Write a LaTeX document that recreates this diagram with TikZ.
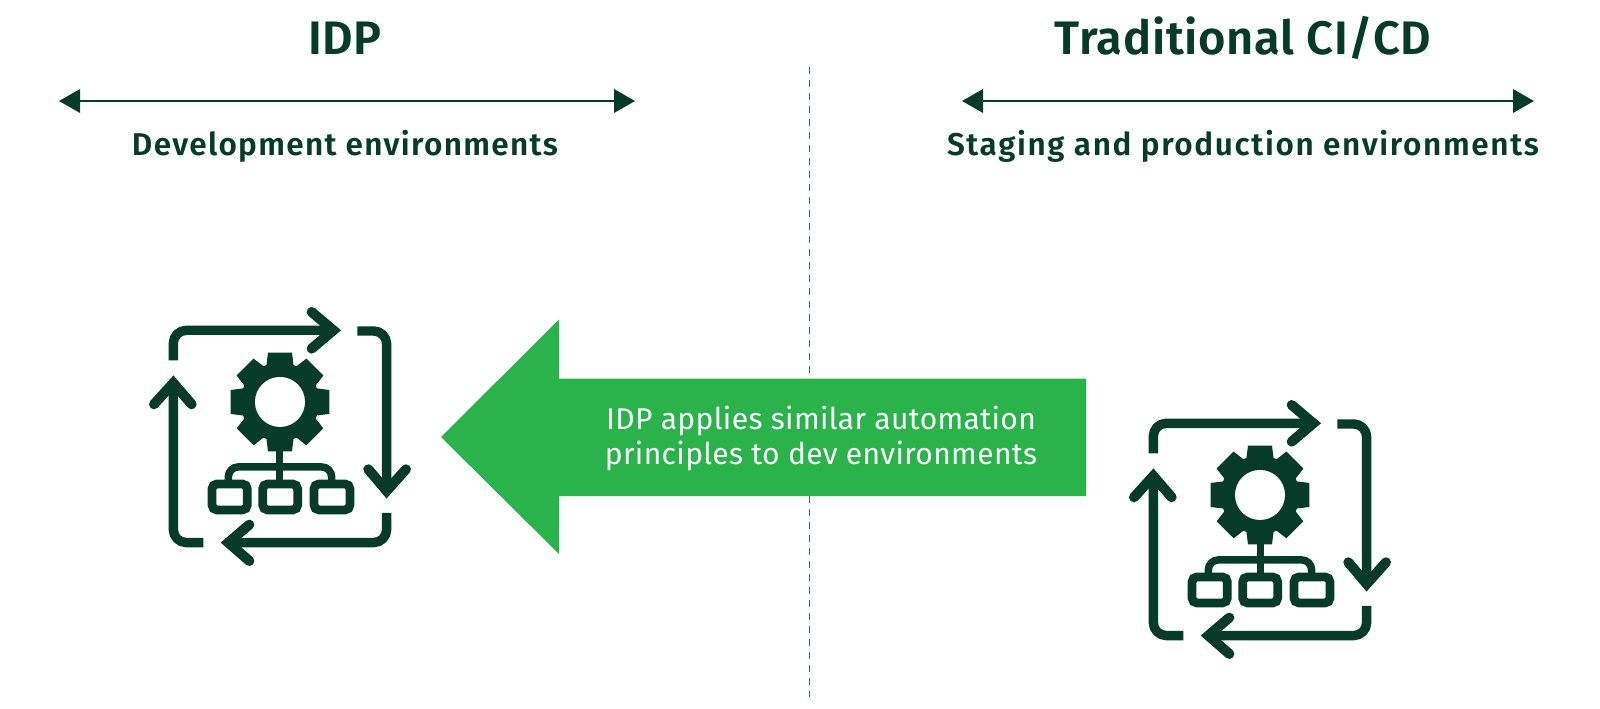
\documentclass[tikz,border=0pt]{standalone}
\usepackage{fontspec}
\setmainfont{Fira Sans}
\newfontfamily\titlefont[LetterSpace=1.5]{Fira Sans SemiBold}
\newfontfamily\subfont[LetterSpace=4.2]{Fira Sans SemiBold}
\newfontfamily\subwfont[LetterSpace=5.2]{Fira Sans SemiBold}
\newfontfamily\insidefont[LetterSpace=1.2]{Fira Sans}
\definecolor{dk}{HTML}{073B29}
\definecolor{gr}{HTML}{29B34A}
\tikzset{
 x=1pt,y=-1pt,
 ln/.style={draw=dk,line width=9.4pt,line cap=round,line join=round,rounded corners=13pt},
 hd/.style={draw=dk,line width=10pt,line cap=round,line join=miter},
 title/.style={text=dk,font=\fontsize{47}{50}\titlefont,inner sep=0pt,anchor=base},
 sub/.style={text=dk,font=\fontsize{31.5}{34}\subfont,inner sep=0pt,anchor=base},
 subw/.style={text=dk,font=\fontsize{31.5}{34}\subwfont,inner sep=0pt,anchor=base},
 inside/.style={text=white,font=\fontsize{30}{36}\insidefont,inner sep=0pt,anchor=base},
 span/.style={draw=dk,line width=2.2pt},
 tip/.style={fill=dk},
 icon/.pic={
  \begin{scope}[shift={(-150,-111.7)},x=0.3333pt,y=-0.3333pt]
  \draw[ln,line cap=butt] (130,210) -- (130,120) -- (600,120);
  \draw[hd] (545,65) -- (610,120) -- (545,175);
  \draw[ln,line cap=butt] (682,122) -- (770,122) -- (770,590);
  \draw[hd] (715,537) -- (770,602) -- (828,537);
  \draw[ln,line cap=butt] (770,668) -- (770,757) -- (305,757);
  \draw[hd] (358,703) -- (295,757) -- (358,812);
  \draw[ln,line cap=butt] (220,757) -- (130,757) -- (130,290);
  \draw[hd] (72,342) -- (130,278) -- (185,342);
  \fill[dk] (450,335) circle[radius=118];
  \foreach \a in {0,45,...,315}{
    \fill[dk,shift={(450,335)},rotate=\a] (-42,100) -- (-36,148) -- (36,148) -- (42,100) -- cycle;
  }
  \fill[white] (450,335) circle[radius=75];
  \draw[dk,line width=7pt] (450,470) -- (450,575);
  \draw[dk,line width=7.5pt,rounded corners=10pt] (295,575) -- (295,530) -- (605,530) -- (605,575);
  \draw[dk,line width=8.8pt,rounded corners=5pt] (246,581) rectangle (352,659);
  \draw[dk,line width=8.8pt,rounded corners=5pt] (398,581) rectangle (503,659);
  \draw[dk,line width=8.8pt,rounded corners=5pt] (552,581) rectangle (660,659);
  \end{scope}
 }
}
\begin{document}
\begin{tikzpicture}
\useasboundingbox (0,0) rectangle (1600,709);
\fill[white] (0,0) rectangle (1600,709);
\coordinate (dtop) at (809,67);
\coordinate (dbot) at (809,697);
\draw[dk!75,line width=1pt,dash pattern=on 7pt off 6pt] (dtop) -- (dbot);
\node[title] (idp) at (345,55) {IDP};
\node[title] (trad) at (1243,55) {Traditional CI/CD};
\coordinate (la) at (80,101); \coordinate (lb) at (614,101);
\coordinate (ra) at (983,101); \coordinate (rb) at (1513,101);
\draw[span] (la) -- (lb);
\fill[tip] (59,101) -- (80,89) -- (80,113) -- cycle;
\fill[tip] (635,101) -- (614,89) -- (614,113) -- cycle;
\draw[span] (ra) -- (rb);
\fill[tip] (962,101) -- (983,89) -- (983,113) -- cycle;
\fill[tip] (1534,101) -- (1513,89) -- (1513,113) -- cycle;
\node[sub] (dev) at (345,155) {Development environments};
\node[subw] (stag) at (1243,155) {Staging and production environments};
\path[fill=gr] (441,437) -- (559,319.5) -- (559,378.6) -- (1086,378.6) -- (1086,496) -- (559,496) -- (559,554) -- cycle;
\node[inside] (l1) at (821,429) {IDP applies similar automation};
\node[inside] (l2) at (821,464) {principles to dev environments};
\pic (iconl) at (280,402) {icon};
\pic (iconr) at (1260,495) {icon};
\end{tikzpicture}
\end{document}
